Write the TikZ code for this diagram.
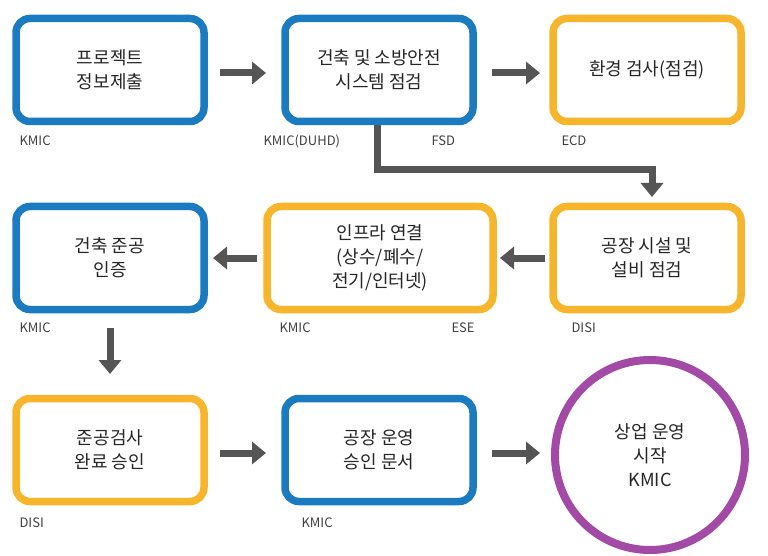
\documentclass[tikz,border=0pt]{standalone}
\usepackage{fontspec}
\setmainfont{Noto Sans CJK KR}
\usetikzlibrary{arrows.meta}
\definecolor{bl}{HTML}{1B7BC0}
\definecolor{or}{HTML}{F7B52C}
\definecolor{pu}{HTML}{A24AA6}
\definecolor{ar}{HTML}{555555}
\begin{document}
\begin{tikzpicture}[x=1pt,y=-1pt,
 box/.style={draw=#1,line width=7.5pt,rounded corners=14pt,fill=white,minimum width=188pt,minimum height=103pt,align=center,font=\fontsize{18}{24}\selectfont,text=black!85},
 lab/.style={font=\fontsize{13}{15}\selectfont,text=black!75,anchor=west},
 arr/.style={draw=ar,line width=7pt,-{Triangle[length=14pt,width=22pt]}}]
\useasboundingbox (0,0) rectangle (768,556);
\node[box=bl] (a) at (110,70) {프로젝트\\정보제출};
\node[box=bl] (b) at (379,70) {건축 및 소방안전\\시스템 점검};
\node[box=or] (c) at (647,70) {환경 검사(점검)};
\node[box=bl] (d) at (110,258) {건축 준공\\인증};
\node[box=or,minimum width=226pt] (e) at (380,258) {인프라 연결\\(상수/폐수/\\전기/인터넷)};
\node[box=or] (f) at (647,258) {공장 시설 및\\설비 점검};
\node[box=or] (g) at (110,450) {준공검사\\완료 승인};
\node[box=bl] (h) at (379,450) {공장 운영\\승인 문서};
\node[draw=pu,line width=8pt,circle,minimum size=190pt,fill=white,align=center,font=\fontsize{18}{24}\selectfont,text=black!85] (i) at (650,455) {상업 운영\\시작\\KMIC};
\node[lab] (la) at (16,141) {KMIC};
\node[lab] (lb) at (260,141) {KMIC(DUHD)};
\node[lab] (lb2) at (428,141) {FSD};
\node[lab] (lc) at (558,141) {ECD};
\node[lab] (ld) at (16,328) {KMIC};
\node[lab] (le) at (276,328) {KMIC};
\node[lab] (le2) at (448,328) {ESE};
\node[lab] (lf) at (568,328) {DISI};
\node[lab] (lg) at (16,523) {DISI};
\node[lab] (lh) at (298,523) {KMIC};
\draw[arr] (220,73) -- (266,73);
\draw[arr] (492,73) -- (540,73);
\draw[draw=ar,line width=7pt] (377,125) -- (377,170) -- (652,170);
\draw[arr] (652,166.5) -- (652,197);
\draw[arr] (545,258) -- (500,258);
\draw[arr] (257,258) -- (213,258);
\draw[arr] (110,328) -- (110,374);
\draw[arr] (220,453) -- (266,453);
\draw[arr] (492,453) -- (540,453);
\end{tikzpicture}
\end{document}
